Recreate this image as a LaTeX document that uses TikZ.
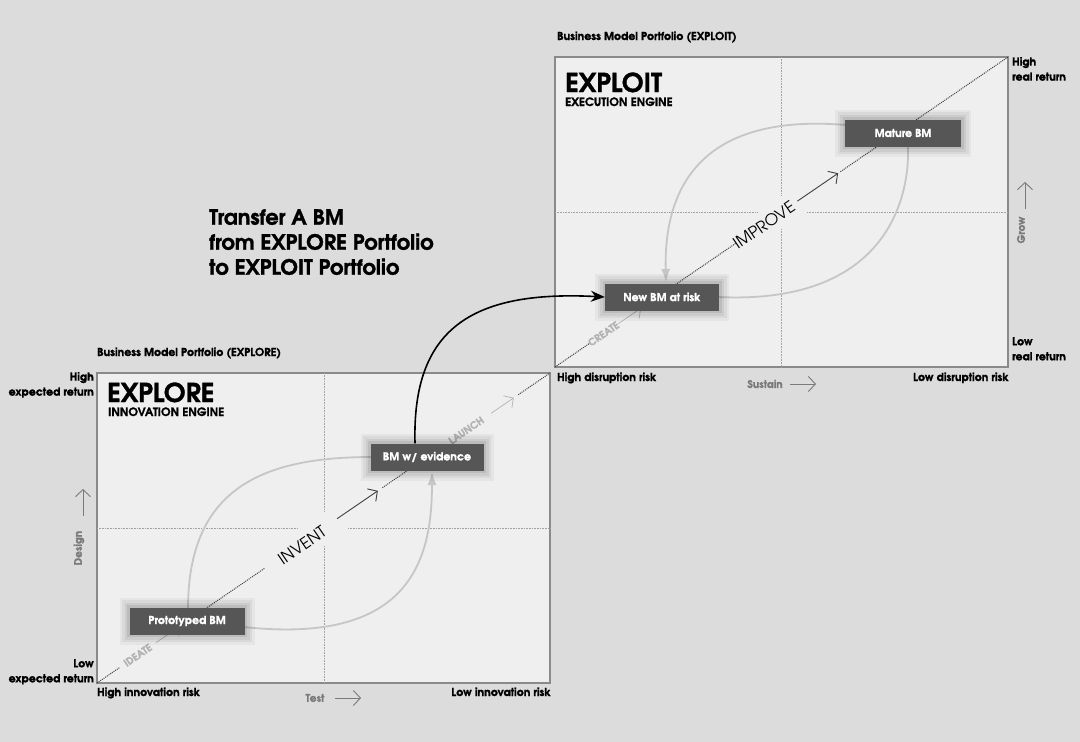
\documentclass[tikz,border=0pt]{standalone}
\usepackage{fontspec}
\setmainfont{texgyreadventor}[Extension=.otf, UprightFont=*-regular, BoldFont=*-bold, ItalicFont=*-italic, BoldItalicFont=*-bolditalic, BoldFeatures={FakeBold=1.3}]
\usetikzlibrary{arrows.meta,calc}
\definecolor{bggray}{HTML}{DCDCDC}
\definecolor{boxgray}{HTML}{EFEFEF}
\definecolor{framegray}{HTML}{8A8A8A}
\definecolor{bmgray}{HTML}{565656}
\definecolor{curvegray}{HTML}{C6C6C6}
\definecolor{stepgray}{HTML}{B2B2B2}
\definecolor{axisgray}{HTML}{7A7A7A}
\begin{document}
\begin{tikzpicture}[x=1pt,y=-1pt,
  bmbox/.style={fill=bmgray,text=white,font=\bfseries\fontsize{11}{12}\selectfont,
    minimum width=115pt,minimum height=27pt,inner sep=0pt,
    preaction={draw=black,opacity=0.04,line width=20pt,rounded corners=8pt},
    preaction={draw=black,opacity=0.05,line width=15pt,rounded corners=6pt},
    preaction={draw=black,opacity=0.06,line width=10pt,rounded corners=4pt},
    preaction={draw=black,opacity=0.08,line width=5pt,rounded corners=2pt}},
  boxframe/.style={fill=boxgray,draw=framegray,line width=1.2pt},
  divider/.style={draw=framegray!80,densely dotted,line width=0.6pt},
  diag/.style={densely dotted,line width=1pt,color=black!75},
  smalltext/.style={font=\bfseries\fontsize{11}{15}\selectfont,inner sep=0pt},
  axistext/.style={font=\bfseries\fontsize{10.5}{12}\selectfont,text=axisgray,inner sep=0pt},
  steptext/.style={font=\bfseries\fontsize{10}{10}\selectfont,text=stepgray,rotate=34.4,inner sep=1pt},
  phasetext/.style={font=\fontsize{16}{16}\selectfont,rotate=34.4,inner sep=2pt},
  openarrow/.style={-{Straight Barb[length=7pt,width=15pt]},line width=0.9pt},
  loop/.style={draw=curvegray,line width=1.8pt},
  loophead/.style={-{Latex[length=13pt,width=9pt]}}
]
  \fill[bggray] (0,0) rectangle (1080,742);
  \useasboundingbox (0,0) rectangle (1080,742);

  % EXPLORE portfolio
  \coordinate (ea) at (97,683);
  \coordinate (eb) at (550,373);
  \draw[boxframe] (ea) rectangle (eb);
  \draw[divider] (324,373) -- (324,512) (324,546) -- (324,683);
  \draw[divider] (97,528) -- (298,528) (348,528) -- (550,528);

  \node[smalltext,anchor=base west] (etitle) at (97,356) {Business Model Portfolio (EXPLORE)};
  \node[font=\bfseries\fontsize{26}{26}\selectfont,anchor=base west,inner sep=0pt] (ename) at (107,402) {EXPLORE};
  \node[font=\bfseries\fontsize{11.5}{11.5}\selectfont,anchor=base west,inner sep=0pt] (eengine) at (108,416) {INNOVATION ENGINE};
  \node[smalltext,anchor=north east,align=right] (ehigh) at (94,372) {High\\expected return};
  \node[smalltext,anchor=north east,align=right] (elow) at (94,659) {Low\\expected return};
  \node[smalltext,anchor=base west] (erisk1) at (97,696) {High innovation risk};
  \node[smalltext,anchor=base east] (erisk2) at (551,696) {Low innovation risk};
  \node[axistext] (etest) at (315,698) {Test};
  \coordinate (etesta) at (335,698);
  \coordinate (etestb) at (361,698);
  \draw[openarrow,draw=axisgray] (etesta) -- (etestb);
  \node[axistext,rotate=90] (edesign) at (79,548) {Design};
  \coordinate (edesa) at (83,516);
  \coordinate (edesb) at (83,489);
  \draw[openarrow,draw=axisgray] (edesa) -- (edesb);

  % diagonal of EXPLORE
  \draw[diag] (ea) -- ($(ea)!0.05!(eb)$);
  \node[steptext] (ideate) at ($(ea)!0.09!(eb)$) {IDEATE};
  \draw[openarrow,draw=stepgray,line width=0.7pt] ($(ea)!0.13!(eb)$) -- ($(ea)!0.185!(eb)$);
  \draw[diag] ($(ea)!0.2!(eb)$) -- ($(ea)!0.37!(eb)$);
  \node[phasetext] (invent) at (302,545) {INVENT};
  \draw[openarrow,draw=black!75] ($(ea)!0.53!(eb)$) -- ($(ea)!0.62!(eb)$);
  \draw[diag] ($(ea)!0.63!(eb)$) -- ($(ea)!0.77!(eb)$);
  \node[steptext] (launch) at ($(ea)!0.815!(eb)$) {LAUNCH};
  \draw[openarrow,draw=stepgray,line width=0.7pt] ($(ea)!0.87!(eb)$) -- ($(ea)!0.92!(eb)$);
  \draw[diag] ($(ea)!0.93!(eb)$) -- (eb);

  % EXPLOIT portfolio
  \coordinate (xa) at (555,367);
  \coordinate (xb) at (1008,57);
  \draw[boxframe] (xa) rectangle (xb);
  \draw[divider] (781,57) -- (781,195) (781,229) -- (781,367);
  \draw[divider] (555,212) -- (757,212) (807,212) -- (1008,212);

  \node[smalltext,anchor=base west] (xtitle) at (557,40) {Business Model Portfolio (EXPLOIT)};
  \node[font=\bfseries\fontsize{26}{26}\selectfont,anchor=base west,inner sep=0pt] (xname) at (565,92) {EXPLOIT};
  \node[font=\bfseries\fontsize{11.5}{11.5}\selectfont,anchor=base west,inner sep=0pt] (xengine) at (565,106) {EXECUTION ENGINE};
  \node[smalltext,anchor=north west,align=left] (xhigh) at (1012,57) {High\\real return};
  \node[smalltext,anchor=north west,align=left] (xlow) at (1012,337) {Low\\real return};
  \node[smalltext,anchor=base west] (xrisk1) at (557,381) {High disruption risk};
  \node[smalltext,anchor=base east] (xrisk2) at (1009,381) {Low disruption risk};
  \node[axistext] (xsustain) at (765,384) {Sustain};
  \coordinate (xsusa) at (790,384);
  \coordinate (xsusb) at (816,384);
  \draw[openarrow,draw=axisgray] (xsusa) -- (xsusb);
  \node[axistext,rotate=90] (xgrow) at (1021,230) {Grow};
  \coordinate (xgrowa) at (1025,209);
  \coordinate (xgrowb) at (1025,182);
  \draw[openarrow,draw=axisgray] (xgrowa) -- (xgrowb);

  % diagonal of EXPLOIT
  \draw[diag] (xa) -- ($(xa)!0.08!(xb)$);
  \node[steptext] (create) at ($(xa)!0.107!(xb)$) {CREATE};
  \draw[openarrow,draw=stepgray,line width=0.7pt] ($(xa)!0.14!(xb)$) -- ($(xa)!0.19!(xb)$);
  \draw[diag] ($(xa)!0.2!(xb)$) -- ($(xa)!0.4!(xb)$);
  \node[phasetext] (improve) at (764,225) {IMPROVE};
  \draw[openarrow,draw=black!75] ($(xa)!0.535!(xb)$) -- ($(xa)!0.625!(xb)$);
  \draw[diag] ($(xa)!0.63!(xb)$) -- (xb);

  % loops
  \draw[loop] (188,609) .. controls (188,490) and (260,457) .. (372,457);
  \draw[loop,loophead] (244,627) .. controls (410,645) and (432,560) .. (432,472);
  \draw[loop,loophead] (846,125) .. controls (690,112) and (664,200) .. (666,282);
  \draw[loop] (718,297) .. controls (885,305) and (910,200) .. (908,146);

  % business models
  \node[bmbox] (proto) at (187,621) {Prototyped BM};
  \node[bmbox,minimum width=113pt] (evidence) at (427,457) {BM w/ evidence};
  \node[bmbox,minimum width=114pt] (newbm) at (662,297) {New BM at risk};
  \node[bmbox,minimum width=116pt] (mature) at (903,133) {Mature BM};

  % transfer
  \node[font=\bfseries\fontsize{21}{25}\selectfont,anchor=north west,align=left,inner sep=0pt] (transfer) at (209,209)
    {Transfer A BM\\from EXPLORE Portfolio\\to EXPLOIT Portfolio};
  \draw[-{Stealth[length=14pt,width=11pt]},line width=1.6pt]
    ([xshift=-12pt]evidence.north) .. controls (412,330) and (470,290) .. (newbm.west);
\end{tikzpicture}
\end{document}
